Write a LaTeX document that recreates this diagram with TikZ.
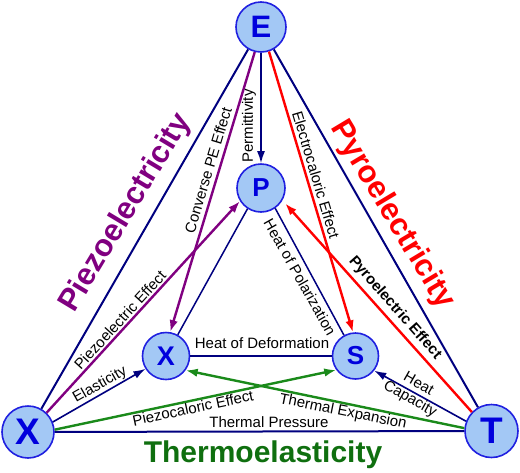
\documentclass[tikz,border=0pt]{standalone}
\usepackage{fontspec}
\setmainfont{Liberation Sans}
\usetikzlibrary{arrows.meta}
\definecolor{navy}{HTML}{00007F}
\definecolor{nodefill}{HTML}{A3C8F5}
\definecolor{nodeborder}{HTML}{2020E0}
\definecolor{letterblue}{HTML}{0000DD}
\definecolor{pepurple}{HTML}{800080}
\definecolor{pyred}{HTML}{FF0000}
\definecolor{tegreen}{HTML}{1A8A1A}
\definecolor{tedark}{HTML}{0F6F0F}
\tikzset{
  vert/.style={circle, draw=nodeborder, fill=nodefill, line width=1.6pt, inner sep=0pt, text=letterblue},
  lbl/.style={font=\fontsize{15}{17}\selectfont, inner sep=0pt, text=black},
  biglbl/.style={font=\bfseries\fontsize{31}{31}\selectfont, inner sep=0pt},
  outer/.style={draw=navy, line width=2pt},
  thin/.style={draw=navy, line width=1.5pt},
  thinarr/.style={draw=navy, line width=1.6pt, -{Latex[length=12pt,width=8pt]}},
  colarr/.style={line width=2.4pt, -{Latex[length=12pt,width=8.5pt]}},
}
\begin{document}
\begin{tikzpicture}[x=1pt,y=-1pt]
\useasboundingbox (0,0) rectangle (520,472);
% vertices
\node[vert, minimum size=50pt, font=\bfseries\fontsize{31}{31}\selectfont] (E) at (261,27) {E};
\node[vert, minimum size=48pt, font=\bfseries\fontsize{26}{26}\selectfont] (P) at (261,188) {P};
\node[vert, minimum size=52pt, font=\bfseries\fontsize{37}{37}\selectfont] (Xb) at (28,432) {X};
\node[vert, minimum size=53pt, font=\bfseries\fontsize{37}{37}\selectfont] (T) at (491.5,431) {T};
\node[vert, minimum size=47pt, font=\bfseries\fontsize{27}{27}\selectfont] (Xs) at (166,356) {X};
\node[vert, minimum size=46pt, font=\bfseries\fontsize{26}{26}\selectfont] (S) at (355.5,356) {S};
% outer triangle
\draw[outer] (E) -- (Xb);
\draw[outer] (E) -- (T);
\draw[outer] (Xb) -- (T);
% inner triangle
\draw[thin] (P.237) -- (Xs.61);
\draw[thin] (P.-55) -- (S.119);
\draw[thin] (Xs) -- (S);
% navy arrows
\draw[thinarr] (E.south) -- (P.north);
\draw[thinarr] (Xb.22) -- (Xs.212);
\draw[thinarr] (T.159) -- (S.-38);
% purple arrows
\draw[colarr, draw=pepurple, fill=pepurple] (Xb.46) -- (P.212);
\draw[colarr, draw=pepurple, fill=pepurple] (E.256) -- (Xs.80);
% red arrows
\draw[colarr, draw=pyred, fill=pyred] (E.-72) -- (S.96);
\draw[colarr, draw=pyred, fill=pyred, shorten >=4pt] (T.136) -- (P.-30);
% green arrows
\draw[colarr, draw=tegreen, fill=tegreen] (Xb.5) -- (S.216);
\draw[colarr, draw=tegreen, fill=tegreen] (T.174) -- (Xs.-36);
% labels
\node[lbl, rotate=90] (lPerm) at (249,126) {Permittivity};
\node[lbl, rotate=73.2] (lConv) at (208,170) {Converse PE Effect};
\node[lbl, rotate=-73.4] (lElec) at (316,175) {Electrocaloric Effect};
\node[lbl, rotate=47.5] (lPiezo) at (120,320) {Piezoelectric Effect};
\node[lbl, rotate=-48.6, font=\bfseries\fontsize{15}{17}\selectfont] (lPyro) at (395,308) {Pyroelectric Effect};
\node[lbl, rotate=-60.5] (lPol) at (300,277) {Heat of Polarization};
\node[lbl] (lDef) at (262,343) {Heat of Deformation};
\node[lbl, rotate=29.5] (lElas) at (100,385) {Elasticity};
\node[lbl, rotate=-29.6, align=center] (lCap) at (414,392) {Heat\\Capacity};
\node[lbl, rotate=12] (lPzc) at (193,408) {Piezocaloric Effect};
\node[lbl, rotate=-11.4] (lExp) at (343,412) {Thermal Expansion};
\node[lbl] (lPres) at (269,422) {Thermal Pressure};
% big labels
\node[biglbl, text=pepurple, rotate=59] (bPiezo) at (126,213) {Piezoelectricity};
\node[biglbl, text=pyred, rotate=-59] (bPyro) at (392,215) {Pyroelectricity};
\node[biglbl, text=tedark, font=\bfseries\fontsize{30}{30}\selectfont] (bThermo) at (263,455) {Thermoelasticity};
\end{tikzpicture}
\end{document}
